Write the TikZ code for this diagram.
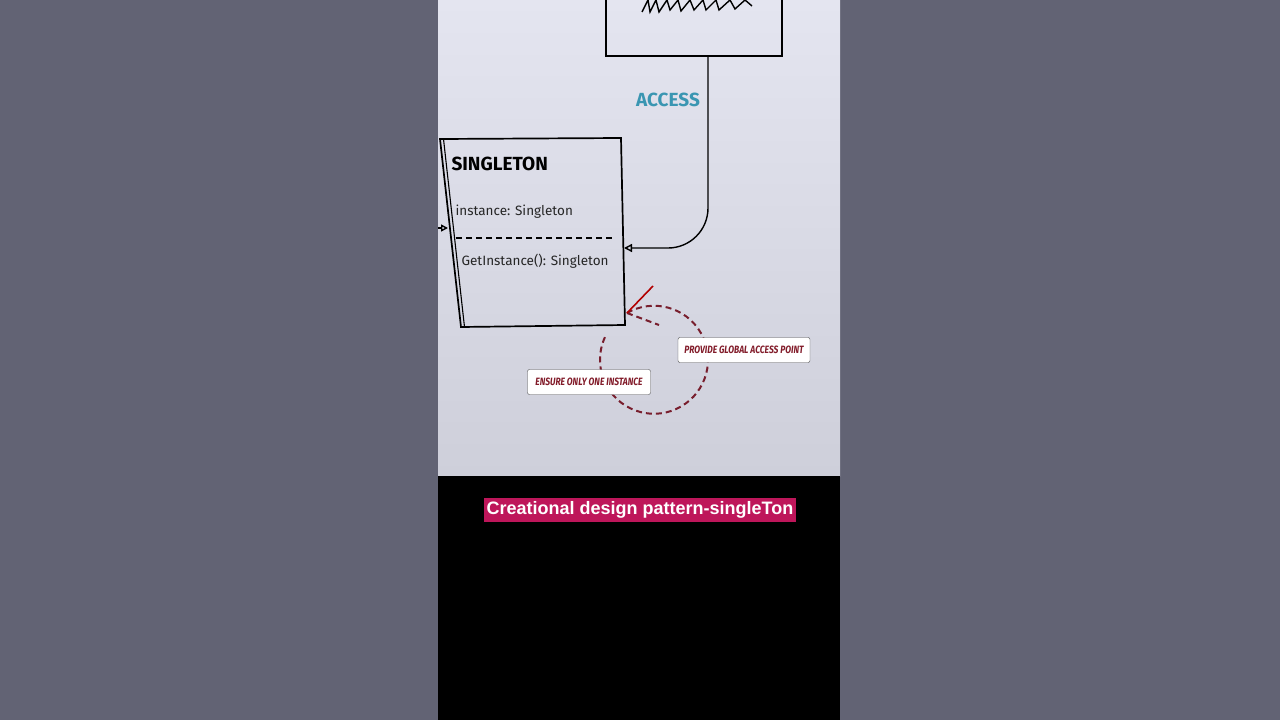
\documentclass[tikz,border=0pt]{standalone}
\usepackage{fontspec}
\setmainfont{Fira Sans}
\newfontfamily\capfont{Liberation Sans}
\newfontfamily\handfont[FakeStretch=0.8]{Fira Sans}
\usetikzlibrary{arrows.meta}
\definecolor{sidegray}{RGB}{98,99,116}
\definecolor{boardtop}{RGB}{228,229,240}
\definecolor{boardbot}{RGB}{206,207,218}
\definecolor{accessblue}{RGB}{58,150,178}
\definecolor{notered}{RGB}{130,28,42}
\definecolor{loopred}{RGB}{120,30,45}
\definecolor{capred}{RGB}{190,22,90}
\begin{document}
\begin{tikzpicture}[x=1pt, y=-1pt,
  note/.style={draw=black!70, fill=white, rounded corners=2pt, minimum height=25, inner xsep=5,
    text=notered, font=\handfont\bfseries\itshape\fontsize{10.6}{10.6}\selectfont},
  member/.style={anchor=west, text=black!85, font=\fontsize{13.5}{13.5}\selectfont}]
\useasboundingbox (0,0) rectangle (1280,720);
\fill[sidegray] (0,0) rectangle (1280,720);
\shade[top color=boardtop, bottom color=boardbot] (438,0) rectangle (840,476);
\fill[black] (438,476) rectangle (840,720);

% client box, cut at the top
\node [draw=black, line width=1.8pt, minimum width=176, minimum height=74] (client) at (694,19) {};
\draw[line width=1.4pt] (642,12) -- (648,0) -- (650,12) -- (656,0) -- (659,12) -- (667,0) -- (670,10)
  -- (678,0) -- (681,11) -- (690,0) -- (694,10) -- (703,0) -- (706,10) -- (716,0) -- (719,10)
  -- (730,0) -- (735,9) -- (745,0) -- (752,6);

% singleton class
\coordinate (sgl-nw) at (440,139);
\coordinate (sgl-ne) at (621,138);
\coordinate (sgl-se) at (625,325);
\coordinate (sgl-sw) at (461,327);
\coordinate (sgl-e) at (624,248);
\coordinate (sgl-w) at (448,228);
\draw[line width=1.7pt] (sgl-nw) -- (sgl-ne) -- (sgl-se) -- (sgl-sw) -- cycle;
\draw[line width=1.1pt] ([xshift=3.5]sgl-nw) -- ([xshift=3.5]sgl-sw);
\node [anchor=west, font=\bfseries\fontsize{19}{19}\selectfont] (sgl-title) at (448,164) {SINGLETON};
\node [member] (sgl-field) at (452,212) {instance: Singleton};
\node [member] (sgl-method) at (458,261) {GetInstance(): Singleton};
\draw[line width=1.1pt, dash pattern=on 6pt off 4pt] (456,238) -- (612,238);

% access arrow
\coordinate (acc-top) at (708,56);
\coordinate (panel-w) at (438,228);
\draw[line width=1.4pt, -{Triangle[open, length=8pt, width=8pt]}, rounded corners=40pt] (acc-top) |- (sgl-e);
\draw[line width=1.4pt, -{Triangle[open, length=7pt, width=7pt]}] (panel-w) -- (sgl-w);
\node [text=accessblue, font=\bfseries\fontsize{19}{19}\selectfont] (access) at (668,100) {ACCESS};

% loop
\coordinate (loop-tip) at (627,313);
\coordinate (loop-top) at (653,286);
\coordinate (loop-arm) at (659,325);
\draw[loopred, line width=2pt, dash pattern=on 6pt off 4pt] (loop-tip) arc[start angle=240, end angle=565, radius=54];
\draw[loopred, line width=2pt, dash pattern=on 6pt off 4pt] (loop-tip) -- (loop-arm);
\draw[red!70!black, line width=1.6pt] (loop-top) -- (loop-tip);
\node [note, minimum width=132] (global) at (744,350) {PROVIDE GLOBAL ACCESS POINT};
\node [note, minimum width=123] (ensure) at (589,382) {ENSURE ONLY ONE INSTANCE};

% caption
\node [fill=capred, text=white, minimum height=24, inner xsep=3,
  font=\capfont\bfseries\fontsize{18}{18}\selectfont] (caption) at (640,510) {Creational design pattern-singleTon};
\end{tikzpicture}
\end{document}
